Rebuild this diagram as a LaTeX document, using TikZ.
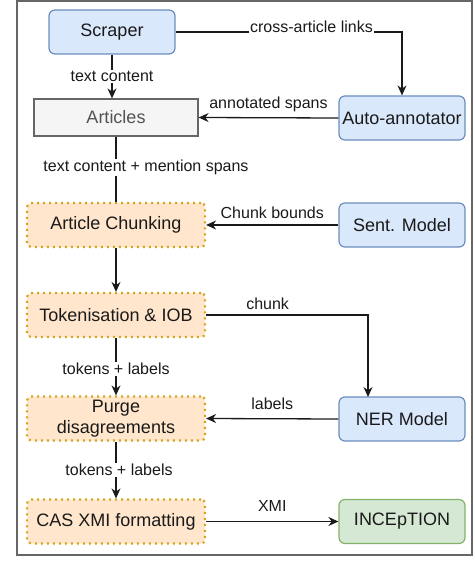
\documentclass[tikz,border=0pt]{standalone}
\usepackage{fontspec}
\setmainfont{Liberation Sans}
\usetikzlibrary{arrows.meta}
\definecolor{bfill}{HTML}{DAE8FC}
\definecolor{bdraw}{HTML}{6C8EBF}
\definecolor{gfill}{HTML}{F5F5F5}
\definecolor{gdraw}{HTML}{666666}
\definecolor{ofill}{HTML}{FFE6CC}
\definecolor{odraw}{HTML}{D6A520}
\definecolor{grfill}{HTML}{D5E8D4}
\definecolor{grdraw}{HTML}{82B366}
\definecolor{ink}{HTML}{1A1A1A}
\tikzset{
  box/.style={rectangle, minimum height=44pt, inner sep=0pt, text=ink,
    font=\fontsize{18}{21}\selectfont, align=center},
  bluebox/.style={box, rounded corners=6pt, fill=bfill, draw=bdraw, line width=1.2pt, minimum width=126pt},
  graybox/.style={box, fill=gfill, draw=gdraw, line width=1.2pt, minimum width=164pt, minimum height=37pt, text=ink!75},
  orangebox/.style={box, rounded corners=4pt, fill=ofill, draw=odraw, line width=2.2pt,
    dash pattern=on 2pt off 4pt, minimum width=178pt},
  greenbox/.style={box, rounded corners=6pt, fill=grfill, draw=grdraw, line width=1.2pt, minimum width=126pt},
  conn/.style={draw=ink, line width=1.3pt},
  arr/.style={conn, -{Stealth[length=10pt,width=9pt]}},
  lbl/.style={font=\fontsize{16}{18}\selectfont, text=ink, inner sep=1pt},
  lblw/.style={lbl, fill=white},
}
\begin{document}
\begin{tikzpicture}[x=1pt,y=-1pt]
\useasboundingbox (0,0) rectangle (474,583);
\draw[draw=gray!80!black, line width=1.6pt] (17,1) rectangle (472,555);

\node[bluebox] (scraper) at (112,32) {Scraper};
\node[graybox] (articles) at (116,117.5) {Articles};
\node[bluebox] (auto) at (402,118) {Auto-annotator};
\node[orangebox] (chunk) at (116,225) {Article Chunking};
\node[bluebox] (sent) at (402,225) {Sent. Model};
\node[orangebox] (tok) at (116,315) {Tokenisation \& IOB};
\node[orangebox] (purge) at (116,418.5) {Purge\\disagreements};
\node[bluebox] (ner) at (402,419) {NER Model};
\node[orangebox] (cas) at (116,521.5) {CAS XMI formatting};
\node[greenbox] (incep) at (402,521.5) {INCEpTION};

% connectors
\draw[arr] (scraper.east) -| (auto.north)
  node[lblw, pos=0.30, yshift=5pt] {cross-article links};
\draw[arr] (scraper.south) -- (scraper.south |- articles.north)
  node[lblw, midway] {text content};
\draw[arr] (auto.west) -- (articles.east)
  node[lbl, midway, above=4pt] {annotated spans};
\draw[conn] (articles.south) -- (articles.south |- chunk.north)
  node[lblw, pos=0.47, xshift=30pt] {text content + mention spans};
\draw[arr] (sent.west) -- (chunk.east)
  node[lbl, midway, above=5pt] {Chunk bounds};
\draw[arr] (chunk.south) -- (tok.north);
\draw[arr] (tok.east) -| (368,397) coordinate (nertop)
  node[lbl, pos=0.19, above=4pt] {chunk};
\draw[arr] (tok.south) -- (purge.north)
  node[lblw, midway, yshift=-2pt] {tokens + labels};
\draw[arr] (ner.west) -- (purge.east)
  node[lbl, midway, above=7pt] {labels};
\draw[arr] (purge.south) -- (cas.north)
  node[lblw, midway, xshift=3pt] {tokens + labels};
\draw[arr] (cas.east) -- (incep.west)
  node[lbl, midway, above=8pt] {XMI};
\end{tikzpicture}
\end{document}
